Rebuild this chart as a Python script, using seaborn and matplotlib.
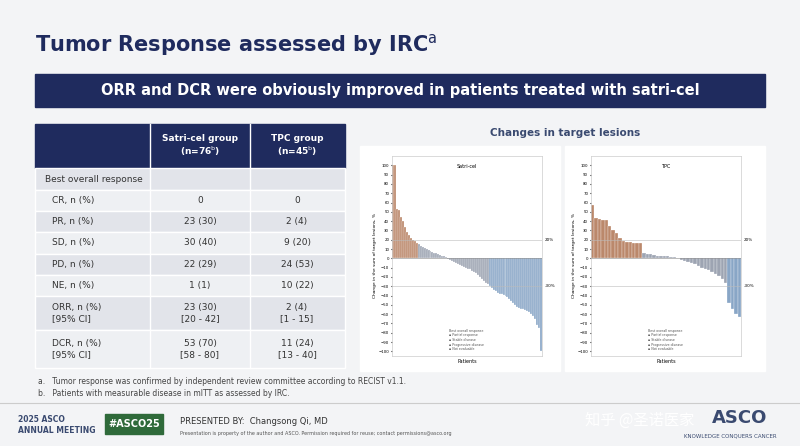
import numpy as np
import pandas as pd
import seaborn as sns
import matplotlib.pyplot as plt
from matplotlib.patches import Rectangle

rows = ["Best overall response", "CR, n (%)", "PR, n (%)", "SD, n (%)", "PD, n (%)", "NE, n (%)",
        "ORR, n (%)\n[95% CI]", "DCR, n (%)\n[95% CI]"]
satri = ["", "0", "23 (30)", "30 (40)", "22 (29)", "1 (1)", "23 (30)\n[20 - 42]", "53 (70)\n[58 - 80]"]
tpc = ["", "0", "2 (4)", "9 (20)", "24 (53)", "10 (22)", "2 (4)\n[1 - 15]", "11 (24)\n[13 - 40]"]

satri_change = [100, 100, 53, 52, 44, 40, 34, 28, 25, 22, 20, 19, 17, 15, 13, 12, 11, 10, 9, 8, 7, 6, 6, 5, 4, 3, 2, 1,
                -1, -2, -3, -4, -5, -6, -7, -8, -9, -10, -11, -12, -14, -15, -16, -18, -20, -22, -24, -27, -28, -30,
                -32, -34, -35, -37, -38, -38, -39, -40, -42, -44, -46, -48, -50, -52, -53, -54, -55, -56, -57, -58,
                -60, -62, -65, -72, -75, -100]
tpc_change = [57, 43, 42, 41, 41, 35, 30, 27, 22, 19, 18, 18, 17, 17, 16, 6, 5, 5, 4, 3, 2, 2, 2, 1, 1, 0,
              -2, -3, -4, -5, -6, -8, -10, -12, -13, -15, -17, -19, -22, -26, -48, -55, -60, -63]

NAVY = "#1f2b5e"
fig = plt.figure(figsize=(8, 4.46), dpi=100)
fig.patch.set_facecolor("#f3f4f6")
bg = fig.add_axes([0, 0, 1, 1])
bg.set_xlim(0, 800); bg.set_ylim(446, 0); bg.axis("off")

bg.text(35, 45, "Tumor Response assessed by IRC$^{\\mathrm{a}}$", fontsize=15, fontweight="bold", color=NAVY, va="center")
bg.add_patch(Rectangle((35, 74), 730, 33, color=NAVY))
bg.text(400, 91, "ORR and DCR were obviously improved in patients treated with satri-cel", fontsize=10.5,
        fontweight="bold", color="white", ha="center", va="center")

# table
bg.add_patch(Rectangle((35, 124), 310, 44, color=NAVY))
bg.text(200, 146, "Satri-cel group\n(n=76$^{\\mathrm{b}}$)", color="white", fontsize=6.5, fontweight="bold", ha="center", va="center")
bg.text(297, 146, "TPC group\n(n=45$^{\\mathrm{b}}$)", color="white", fontsize=6.5, fontweight="bold", ha="center", va="center")
ys = [168, 190, 211, 232, 254, 275, 296, 330, 368]
for i, lab in enumerate(rows):
    y0, y1 = ys[i], ys[i + 1]
    bg.add_patch(Rectangle((35, y0), 310, y1 - y0, color="#e2e4ea" if i % 2 == 0 else "#eef0f3", ec="white", lw=1))
    ym = (y0 + y1) / 2
    bg.text(45 if i == 0 else 52, ym, lab, fontsize=6.5, color="#333", va="center")
    bg.text(200, ym, satri[i], fontsize=6.5, color="#333", va="center", ha="center")
    bg.text(297, ym, tpc[i], fontsize=6.5, color="#333", va="center", ha="center")
for x in (150, 250):
    bg.plot([x, x], [124, 368], color="white", lw=1)

bg.text(565, 133, "Changes in target lesions", fontsize=7.5, fontweight="bold", color="#3a4a70", ha="center", va="center")
bg.add_patch(Rectangle((360, 146), 200, 225, color="white"))
bg.add_patch(Rectangle((565, 146), 200, 225, color="white"))

bg.text(38, 382, "a.   Tumor response was confirmed by independent review committee according to RECIST v1.1.", fontsize=5.5, color="#444", va="center")
bg.text(38, 394, "b.   Patients with measurable disease in mITT as assessed by IRC.", fontsize=5.5, color="#444", va="center")
bg.plot([0, 800], [403, 403], color="#ccc", lw=0.8)
bg.text(18, 425, "2025 ASCO\nANNUAL MEETING", fontsize=5.5, color="#3a4a70", fontweight="bold", va="center")
bg.add_patch(Rectangle((105, 414), 58, 20, color="#2f6a3a"))
bg.text(134, 424, "#ASCO25", fontsize=7, color="white", fontweight="bold", ha="center", va="center")
bg.text(180, 421, "PRESENTED BY:  Changsong Qi, MD", fontsize=6, color="#333", va="center")
bg.text(180, 433, "Presentation is property of the author and ASCO. Permission required for reuse; contact permissions@asco.org",
        fontsize=3.5, color="#555", va="center")
bg.text(740, 418, "ASCO", fontsize=13, fontweight="bold", color="#3a4a70", ha="center", va="center")
bg.text(730, 436, "KNOWLEDGE CONQUERS CANCER", fontsize=4, color="#3a4a70", ha="center", va="center")
bg.text(585, 420, "知乎 @圣诺医家", fontsize=11, color="white", fontfamily="Noto Sans CJK SC", va="center")

palette = {"PD": "#c8845e", "SD": "#9aa3b5", "PR": "#7fa6d0"}

def cat(v):
    return "PD" if v >= 16 else ("SD" if v > -30 else "PR")

def waterfall(rect, vals, title):
    ax = fig.add_axes(rect)
    df = pd.DataFrame({"p": range(len(vals)), "v": vals, "c": [cat(v) for v in vals]})
    sns.barplot(data=df, x="p", y="v", hue="c", palette=palette, dodge=False, width=1.0,
                edgecolor="white", linewidth=0.2, ax=ax, legend=False)
    ax.set_ylim(-105, 110)
    ax.set_yticks(range(-100, 101, 10))
    ax.tick_params(labelsize=2.8, length=1, pad=1)
    ax.set_xticks([])
    ax.axhline(0, color="#888", lw=0.4)
    ax.axhline(20, color="#bbb", lw=0.4)
    ax.axhline(-30, color="#bbb", lw=0.4)
    ax.set_xlabel("Patients", fontsize=3.5, labelpad=2)
    ax.set_ylabel("Change in the sum of target lesions, %", fontsize=3.2, labelpad=1)
    ax.set_title(title, fontsize=3.5, y=0.9)
    for s in ax.spines.values():
        s.set_color("#ccc"); s.set_linewidth(0.5)
    ax.text(1.02, 20, "20%", transform=ax.get_yaxis_transform(), fontsize=3, va="center")
    ax.text(1.02, -30, "-30%", transform=ax.get_yaxis_transform(), fontsize=3, va="center")
    ax.text(0.38, 0.08, "Best overall response\n▪ Partial response\n▪ Stable disease\n▪ Progressive disease\n▪ Not evaluable",
            transform=ax.transAxes, fontsize=2.3, va="center", ha="left", color="#555")
    return ax

waterfall([392 / 800, 1 - 356 / 446, 150 / 800, 200 / 446], satri_change, "Satri-cel")
waterfall([591 / 800, 1 - 356 / 446, 150 / 800, 200 / 446], tpc_change, "TPC")

fig.savefig("out.png", dpi=100, facecolor=fig.get_facecolor())
